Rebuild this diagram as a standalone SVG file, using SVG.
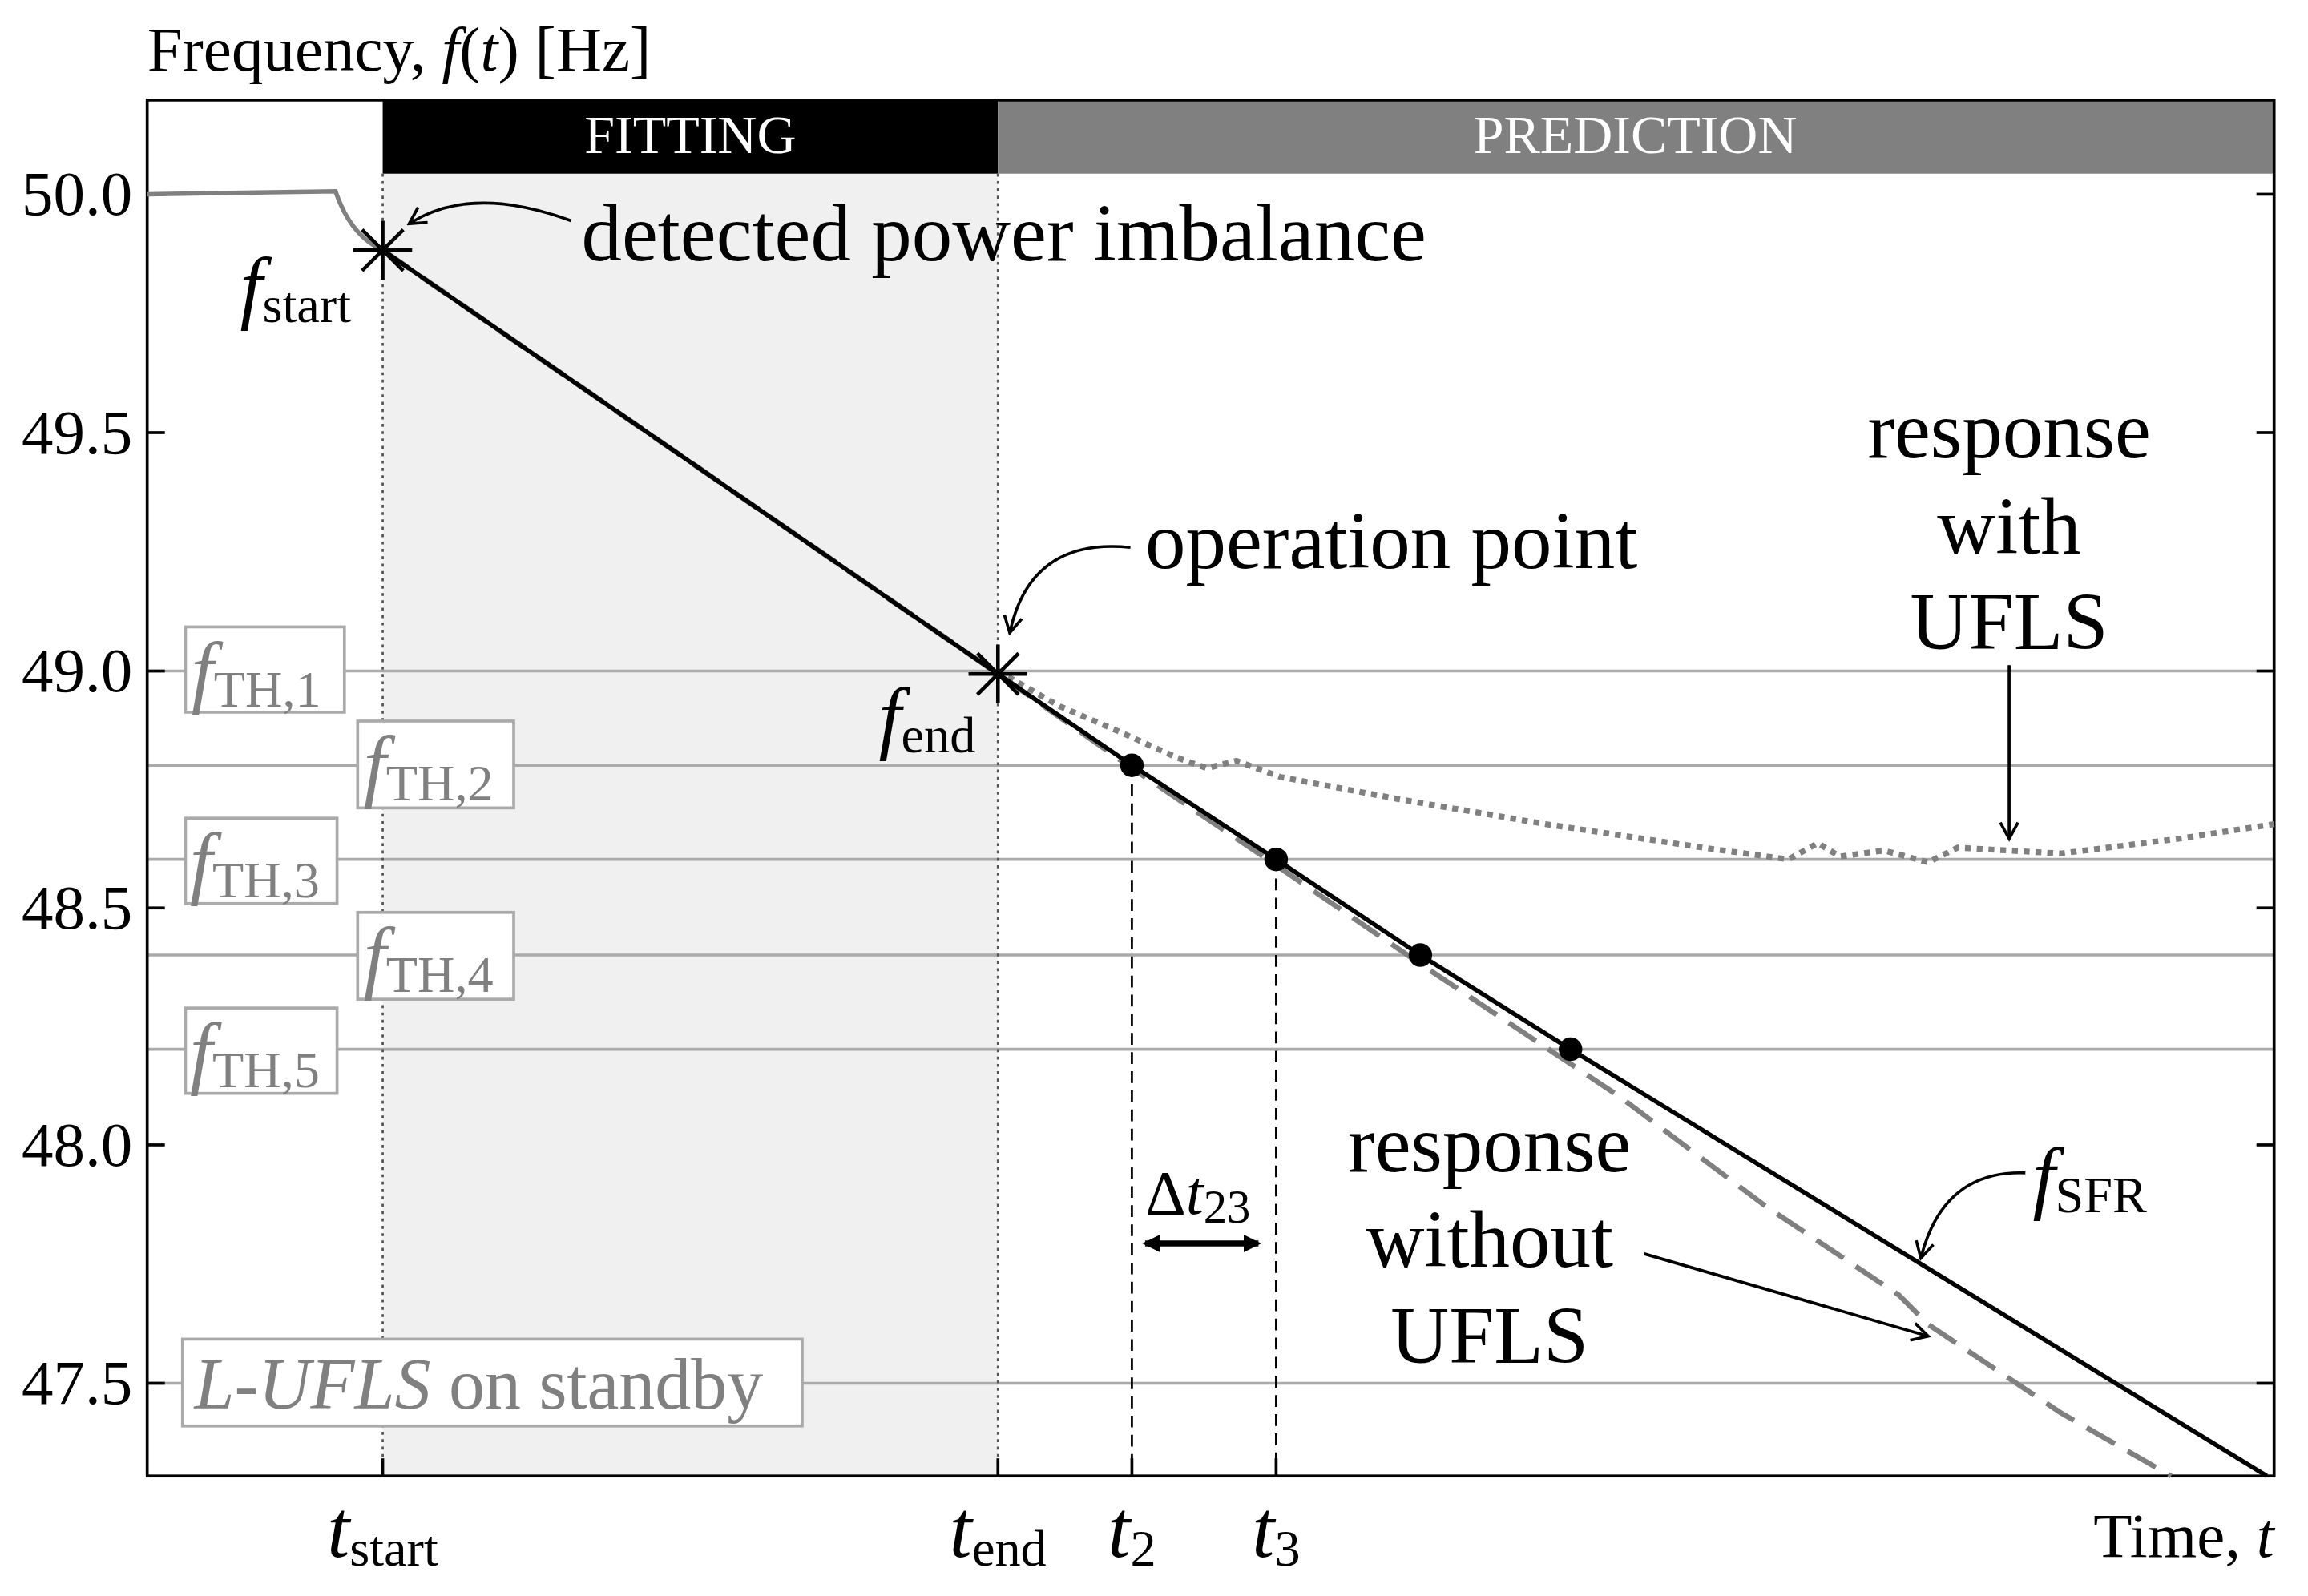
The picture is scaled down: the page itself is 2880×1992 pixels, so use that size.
<svg xmlns="http://www.w3.org/2000/svg" width="2880" height="1992" viewBox="0 0 2880 1992">
<style>
text{font-family:"Liberation Serif",serif;fill:#000}
.i{font-style:italic}
.tk{font-size:43px}
.big{font-size:55px}
.sb{font-size:35px}
.g{fill:#808080}
.hl{stroke:#aaa;stroke-width:2;fill:none}
.box{fill:#fff;stroke:#aaa;stroke-width:2}
.ar{fill:none;stroke:#000;stroke-width:2;marker-end:url(#ah)}
</style>
<defs>
<marker id="ah" markerWidth="14" markerHeight="14" refX="12" refY="7" orient="auto" markerUnits="userSpaceOnUse"><path d="M1,1 L12,7 L1,13" fill="none" stroke="#000" stroke-width="2"/></marker>
<marker id="ahf" markerWidth="12" markerHeight="12" refX="10" refY="6" orient="auto-start-reverse" markerUnits="userSpaceOnUse"><path d="M0,0 L12,6 L0,12 Z" fill="#000"/></marker>
</defs>
<rect width="2880" height="1992" fill="#fff"/>
<g transform="scale(1.8367)">
<g id="background">
<rect x="260" y="118" width="418" height="885" fill="#f0f0f0"/>
<rect x="260" y="68" width="418" height="50" fill="#000"/>
<rect x="678" y="68" width="867" height="50" fill="#808080"/>
<text x="469" y="104" font-size="37" text-anchor="middle" style="fill:#fff">FITTING</text>
<text x="1111" y="104" font-size="37" text-anchor="middle" style="fill:#fff">PREDICTION</text>
<g class="hl">
<line x1="100" y1="456" x2="1545" y2="456"/><line x1="100" y1="520" x2="1545" y2="520"/><line x1="100" y1="584" x2="1545" y2="584"/><line x1="100" y1="649" x2="1545" y2="649"/><line x1="100" y1="713" x2="1545" y2="713"/><line x1="100" y1="940" x2="1545" y2="940"/>
</g>
<line x1="260" y1="118" x2="260" y2="1003" stroke="#555" stroke-width="1.5" stroke-dasharray="2,3"/>
<line x1="678" y1="118" x2="678" y2="1003" stroke="#555" stroke-width="1.5" stroke-dasharray="2,3"/>
<rect x="100" y="68" width="1445" height="935" fill="none" stroke="#000" stroke-width="2"/>
<g stroke="#000" stroke-width="2">
<line x1="100" y1="132" x2="112" y2="132"/><line x1="100" y1="294" x2="112" y2="294"/><line x1="100" y1="456" x2="112" y2="456"/><line x1="100" y1="617" x2="112" y2="617"/><line x1="100" y1="778" x2="112" y2="778"/><line x1="100" y1="940" x2="112" y2="940"/>
<line x1="1533" y1="132" x2="1545" y2="132"/><line x1="1533" y1="294" x2="1545" y2="294"/><line x1="1533" y1="456" x2="1545" y2="456"/><line x1="1533" y1="617" x2="1545" y2="617"/><line x1="1533" y1="778" x2="1545" y2="778"/><line x1="1533" y1="940" x2="1545" y2="940"/>
<line x1="260" y1="991" x2="260" y2="1003"/><line x1="678" y1="991" x2="678" y2="1003"/><line x1="769" y1="991" x2="769" y2="1003"/><line x1="867" y1="991" x2="867" y2="1003"/>
</g>
</g>
<g id="threshold-labels">
<rect class="box" x="126" y="426" width="108" height="58"/><text x="130" y="474" class="big g"><tspan class="i">f</tspan><tspan class="sb" dy="6">TH,1</tspan></text>
<rect class="box" x="243" y="490" width="106" height="59"/><text x="247" y="538" class="big g"><tspan class="i">f</tspan><tspan class="sb" dy="6">TH,2</tspan></text>
<rect class="box" x="126" y="556" width="103" height="58"/><text x="129" y="604" class="big g"><tspan class="i">f</tspan><tspan class="sb" dy="6">TH,3</tspan></text>
<rect class="box" x="243" y="620" width="106" height="59"/><text x="247" y="668" class="big g"><tspan class="i">f</tspan><tspan class="sb" dy="6">TH,4</tspan></text>
<rect class="box" x="126" y="685" width="103" height="58"/><text x="129" y="733" class="big g"><tspan class="i">f</tspan><tspan class="sb" dy="6">TH,5</tspan></text>
<rect class="box" x="124" y="910" width="421" height="59"/><text x="132" y="957" class="g" font-size="49"><tspan class="i">L-UFLS</tspan> on standby</text>
</g>
<g id="connectors">
<path d="M100,132 L228,130 Q238,160 260,170" fill="none" stroke="#808080" stroke-width="3"/>
<path d="M678,456 L720,480 L760,497 L800,515 L820,522 L840,517 L870,528 L950,543 L1050,560 L1150,575 L1215,584 L1235,573 L1250,582 L1280,578 L1310,586 L1330,576 L1400,580 L1480,570 L1545,560" fill="none" stroke="#808080" stroke-width="4" stroke-dasharray="4,4"/>
<path d="M260,170 L678,458 L769,522 L867,588 L965,655 L1100,745 L1200,820 L1290,880 L1310,900 L1400,960 L1475,1003" fill="none" stroke="#808080" stroke-width="3.5" stroke-dasharray="22,10"/>
<path d="M260,170 L678,458 L769,520 L867,584 L965,649 L1067,713 L1540,1003" fill="none" stroke="#000" stroke-width="3"/>
<line x1="769" y1="520" x2="769" y2="1003" stroke="#000" stroke-width="1.5" stroke-dasharray="8,5"/>
<line x1="867" y1="584" x2="867" y2="1003" stroke="#000" stroke-width="1.5" stroke-dasharray="8,5"/>
<line x1="778" y1="845" x2="855" y2="845" stroke="#000" stroke-width="4" marker-start="url(#ahf)" marker-end="url(#ahf)"/>
<g fill="#000"><circle cx="769" cy="520" r="8"/><circle cx="867" cy="584" r="8"/><circle cx="965" cy="649" r="8"/><circle cx="1067" cy="713" r="8"/></g>
<g stroke="#000" stroke-width="2.5">
<path d="M240,170 H280 M260,150 V190 M246,156 L274,184 M274,156 L246,184"/>
<path d="M658,458 H698 M678,438 V478 M664,444 L692,472 M692,444 L664,472"/>
</g>
<path class="ar" d="M388,150 Q320,125 278,152"/>
<path class="ar" d="M768,372 Q700,365 686,430"/>
<path class="ar" d="M1365,452 L1365,570"/>
<path class="ar" d="M1117,852 L1310,908"/>
<path class="ar" d="M1376,797 Q1320,795 1305,855"/>
</g>
<g id="labels">
<text x="100" y="48" class="tk">Frequency, <tspan class="i">f</tspan>(<tspan class="i">t</tspan>) [Hz]</text>
<g class="tk" text-anchor="end"><text x="90" y="146">50.0</text><text x="90" y="308">49.5</text><text x="90" y="470">49.0</text><text x="90" y="631">48.5</text><text x="90" y="792">48.0</text><text x="90" y="954">47.5</text></g>
<text x="395" y="177" class="big">detected power imbalance</text>
<text x="778" y="386" class="big">operation point</text>
<g class="big" text-anchor="middle"><text x="1365" y="311">response</text><text x="1365" y="376">with</text><text x="1365" y="441">UFLS</text>
<text x="1012" y="796">response</text><text x="1012" y="861">without</text><text x="1012" y="926">UFLS</text></g>
<text x="1381" y="818" class="big"><tspan class="i">f</tspan><tspan class="sb" dy="6">SFR</tspan></text>
<text x="163" y="213" class="big"><tspan class="i">f</tspan><tspan class="sb" dy="6">start</tspan></text>
<text x="597" y="505" class="big"><tspan class="i">f</tspan><tspan class="sb" dy="6">end</tspan></text>
<text x="778" y="825" font-size="43">Δ<tspan class="i">t</tspan><tspan font-size="32" dy="6">23</tspan></text>
<g class="big" text-anchor="middle">
<text x="260" y="1058"><tspan class="i">t</tspan><tspan class="sb" dy="6">start</tspan></text>
<text x="678" y="1058"><tspan class="i">t</tspan><tspan class="sb" dy="6">end</tspan></text>
<text x="769" y="1058"><tspan class="i">t</tspan><tspan class="sb" dy="6">2</tspan></text>
<text x="867" y="1058"><tspan class="i">t</tspan><tspan class="sb" dy="6">3</tspan></text>
</g>
<text x="1545" y="1058" class="tk" text-anchor="end">Time, <tspan class="i">t</tspan></text>
</g>
</g>
</svg>
